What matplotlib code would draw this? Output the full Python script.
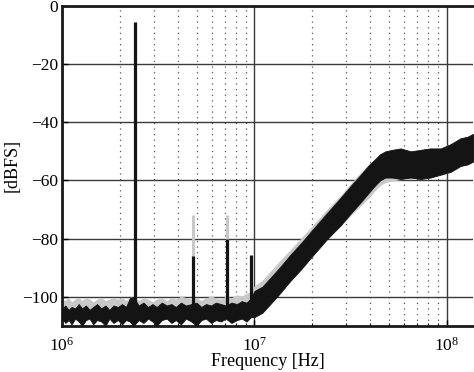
import numpy as np
import matplotlib.pyplot as plt

plt.rcParams['font.family'] = ['Liberation Serif', 'DejaVu Serif']
plt.rcParams['mathtext.fontset'] = 'stix'

# -------------------------
# 频率点 (MHz) 和噪声带的上下包络 (dBFS)
freq_mhz = [1.0, 1.04, 1.08, 1.12, 1.17, 1.22, 1.27, 1.33, 1.39, 1.45,
            1.52, 1.6, 1.68, 1.76, 1.85, 1.95, 2.05, 2.15, 2.25, 2.35,
            2.5, 2.65, 2.8, 2.95, 3.1, 3.3, 3.5, 3.7, 3.9, 4.15,
            4.4, 4.7, 5.0, 5.3, 5.6, 5.95, 6.3, 6.7, 7.1, 7.6,
            8.1, 8.6, 9.1, 9.6, 10.0, 11.0, 12.1, 13.5, 15.4, 17.5,
            20.3, 24.0, 28.0, 32.0, 35.7, 39.0, 42.7, 45.0, 48.0, 52.0,
            57.6, 65.0, 73.0, 82.0, 93.0, 105.0, 118.0, 128.0, 137.0]

black_hi = [-104, -103, -104.5, -103.5, -104, -102.5, -104, -103, -104.5, -103.5,
            -102.5, -104, -103, -104.5, -103, -103.5, -102.5, -103.5, -100.5, -100,
            -103, -102, -103.5, -102.5, -103.5, -102, -103, -102.5, -103.5, -102,
            -103, -102.5, -102, -103.5, -102.5, -103, -102, -102.5, -103, -102,
            -102.5, -101.5, -102, -100.5, -98, -96.5, -93.5, -90, -85.5, -81.5,
            -76.5, -71, -66, -61.5, -58, -55, -52.5, -51, -50, -49.5,
            -49, -50, -49.5, -49, -49, -47.5, -45.5, -45, -44]

black_lo = [-107.5, -109, -108, -109.5, -107.5, -108.5, -110, -108, -107.5, -109.5,
            -108, -108.5, -110, -107.5, -109, -108, -109.5, -108, -108.5, -110,
            -108, -109, -107.5, -108.5, -110, -108, -107.5, -109, -108, -109.5,
            -107.5, -108.5, -110, -108, -107.5, -109, -108, -108.5, -107.5, -109,
            -108, -107.5, -108.5, -107, -107, -105.5, -102.5, -99, -94.5, -90.5,
            -85.5, -80, -75.5, -71, -67.5, -64.5, -61.5, -60, -59, -59,
            -59.5, -59, -59.5, -59, -58, -57, -55, -54.5, -53.5]

gray_hi = [-101, -101.5, -100.5, -102, -101, -100.5, -101.5, -100.5, -101, -102,
           -101, -100.5, -101.5, -101, -100.5, -101, -100.5, -101.5, -100.5, -100,
           -101.5, -100.5, -101, -102, -101, -100.5, -101.5, -100.5, -101, -100,
           -100.5, -101, -100.5, -101.5, -100.5, -100, -100.5, -101, -100, -100.5,
           -99.5, -100, -99, -98.5, -96.5, -94.5, -91.5, -88, -84, -80,
           -75.5, -70, -65.5, -61, -57.5, -55, -52.5, -51, -50, -49.5,
           -49, -50, -49.5, -49, -49, -47.5, -45.5, -45, -44]

gray_lo = [-106, -106.5, -106, -107, -106, -106.5, -106, -107, -106, -106.5,
           -106, -107, -106, -106.5, -106, -106, -106.5, -107, -106, -106.5,
           -106, -106.5, -106, -107, -106, -106.5, -106, -106.5, -106, -107,
           -106, -106.5, -106, -106, -106.5, -106, -106.5, -106, -106, -106.5,
           -106, -106.5, -106, -106, -105.5, -104, -101, -97.5, -93.5, -89.5,
           -84.5, -79.5, -75.5, -71.5, -68.5, -66, -63, -61.5, -60.5, -60,
           -59.5, -59.5, -58.5, -59, -58, -57, -55, -54.5, -53.5]

# 谐波/杂散 (MHz, dBFS)
spur_mhz = [2.4, 4.8, 7.2, 9.6]
spur_black = [-5.4, -86, -80, -85.5]
spur_gray = [-5.4, -72, -72, -103]

f = np.array(freq_mhz) * 1e6
sf = np.array(spur_mhz) * 1e6

# -------------------------
fig = plt.figure(figsize=(4.74, 3.72), dpi=100)
ax = fig.add_axes([0.131, 0.124, 0.867, 0.860])

# 灰色曲线在后
ax.fill_between(f, gray_lo, gray_hi, color='#c8c8c8', lw=0.8, zorder=2)
ax.vlines(sf, -104, spur_gray, color='#c8c8c8', lw=2.2, zorder=2)
# 黑色曲线
ax.fill_between(f, black_lo, black_hi, color='#141414', lw=0.6, zorder=3)
ax.vlines(sf, -105, spur_black, color='#141414', lw=2.3, zorder=3)

ax.set_xscale('log')
ax.set_xlim(1e6, 1.37e8)
ax.set_ylim(-110, 0)
ax.set_yticks([0, -20, -40, -60, -80, -100])

# 网格
ax.grid(True, which='major', color='#3a3a3a', lw=1.0, ls='-', zorder=1)
ax.grid(True, which='minor', axis='x', color='#555555', lw=0.9,
        ls=(0, (1, 3.5)), zorder=1)
ax.set_axisbelow(True)

ax.tick_params(which='both', direction='in', labelsize=12.5, top=False, right=False)
ax.tick_params(which='major', length=4, width=1)
ax.tick_params(which='minor', length=2.5, width=0.8)
ax.tick_params(axis='x', pad=8)
ax.tick_params(axis='y', pad=3)

for s in ['left', 'top', 'bottom']:
    ax.spines[s].set_linewidth(2.0)
    ax.spines[s].set_color('#1a1a1a')
ax.spines['right'].set_visible(False)

ax.set_xlabel('Frequency [Hz]', fontsize=13, labelpad=-1)
ax.set_ylabel('[dBFS]', fontsize=13)
ax.yaxis.set_label_coords(-0.1, 0.5)

plt.savefig('out.png', dpi=100)
